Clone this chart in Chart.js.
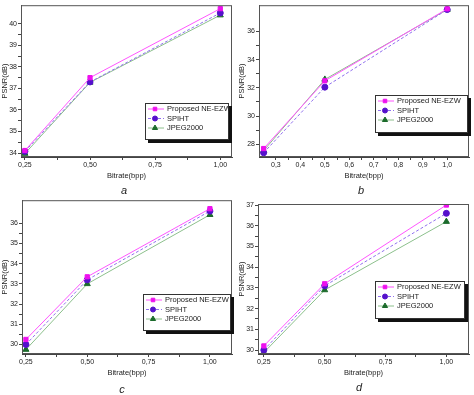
<!DOCTYPE html>
<html>
<head>
<meta charset="utf-8">
<script src="https://cdn.jsdelivr.net/npm/chart.js@4.4.1/dist/chart.umd.min.js"></script>
<style>
body{margin:0;background:#fff;width:474px;height:395px;position:relative;overflow:hidden;font-family:"Liberation Sans",Arial,sans-serif}
canvas{position:absolute}
.lbl{position:absolute;font-style:italic;font-size:11px;color:#222;transform:translate(-50%,-50%)}
</style>
</head>
<body>
<canvas id="cA" width="237" height="195" style="left:0;top:0"></canvas>
<canvas id="cB" width="237" height="195" style="left:237px;top:0"></canvas>
<canvas id="cC" width="237" height="200" style="left:0;top:195px"></canvas>
<canvas id="cD" width="237" height="200" style="left:237px;top:195px"></canvas>
<div class="lbl" style="left:124px;top:190px">a</div>
<div class="lbl" style="left:361px;top:190px">b</div>
<div class="lbl" style="left:122px;top:389px">c</div>
<div class="lbl" style="left:359px;top:387px">d</div>
<script>
// ---------------- data ----------------
var bitrate = [0.25, 0.5, 1.0];
var seriesNames = ['Proposed NE-EZW', 'SPIHT', 'JPEG2000'];

var proposedA = [34.12, 37.5, 40.7];
var spihtA    = [34.08, 37.3, 40.5];
var jpegA     = [33.98, 37.28, 40.4];

var proposedB = [27.7, 32.5, 37.6];
var spihtB    = [27.4, 32.05, 37.55];
var jpegB     = [27.55, 32.6, 37.55];

var proposedC = [30.25, 33.35, 36.72];
var spihtC    = [30.0, 33.2, 36.6];
var jpegC     = [29.75, 33.0, 36.42];

var proposedD = [30.2, 33.2, 37.0];
var spihtD    = [30.0, 33.1, 36.6];
var jpegD     = [29.88, 32.9, 36.2];

var xTicksA = [0.25, 0.5, 0.75, 1.0];
var xTicksB = [0.3, 0.4, 0.5, 0.6, 0.7, 0.8, 0.9, 1.0];
var yTicksA = [34, 35, 36, 37, 38, 39, 40];
var yTicksB = [28, 30, 32, 34, 36];
var yTicksC = [30, 31, 32, 33, 34, 35, 36];
var yTicksD = [30, 31, 32, 33, 34, 35, 36, 37];

//------------------------------ styles -------------------------------
var styles = [
  {line: '#ff55ff', dot: '#ee11ee', shape: 'rect', r: 3, dash: []},
  {line: '#9070ee', dot: '#5511cc', shape: 'circle', r: 3, dash: [3, 2]},
  {line: '#8cc08c', dot: '#1b6b2b', shape: 'triangle', r: 3.5, dash: []}
];

function makeSets(vals) {
  return vals.map(function (v, i) {
    var s = styles[i];
    return {
      label: seriesNames[i],
      data: bitrate.map(function (x, k) { return {x: x, y: v[k]}; }),
      borderColor: s.line,
      backgroundColor: s.dot,
      pointBackgroundColor: s.dot,
      pointBorderColor: s.dot,
      pointStyle: s.shape,
      pointRadius: s.r,
      borderWidth: 1,
      borderDash: s.dash,
      tension: 0
    };
  });
}

// minor ticks between the labelled ones
function withMinor(major) {
  var out = [];
  for (var i = 0; i < major.length; i++) {
    out.push({value: major[i], major: true});
    if (i < major.length - 1) out.push({value: (major[i] + major[i + 1]) / 2, minor: true});
  }
  return out;
}

// frame round plot area + boxed legend with shadow
var boxPlugin = {
  id: 'boxLegend',
  afterDraw: function (chart) {
    var a = chart.chartArea, c = chart.ctx;
    var o = chart.options.plugins.boxLegend;
    c.save();
    c.strokeStyle = '#555';
    c.lineWidth = 1;
    c.strokeRect(a.left + 0.5, a.top + 0.5, a.right - a.left - 1, a.bottom - a.top - 1);

    c.fillStyle = '#111';
    c.fillRect(o.x + 3, o.y + 3, o.w, o.h);
    c.fillStyle = '#fff';
    c.fillRect(o.x, o.y, o.w, o.h);
    c.strokeStyle = '#333';
    c.strokeRect(o.x + 0.5, o.y + 0.5, o.w - 1, o.h - 1);

    chart.data.datasets.forEach(function (ds, i) {
      var yy = o.y + 6 + i * 9.5;
      c.strokeStyle = ds.borderColor;
      c.setLineDash(ds.borderDash);
      c.beginPath();
      c.moveTo(o.x + 3, yy);
      c.lineTo(o.x + 19, yy);
      c.stroke();
      c.setLineDash([]);
      c.fillStyle = ds.pointBackgroundColor;
      c.strokeStyle = ds.pointBorderColor;
      Chart.helpers.drawPoint(c, {pointStyle: ds.pointStyle, radius: ds.pointRadius - 0.5, borderWidth: 1}, o.x + 10, yy);
      c.fillStyle = '#222';
      c.font = '7.5px "Liberation Sans", Arial, sans-serif';
      c.textBaseline = 'middle';
      c.fillText(ds.label, o.x + 22, yy);
    });
    c.restore();
  }
};

function makeChart(id, vals, p) {
  var tickFont = {family: '"Liberation Sans", Arial, sans-serif', size: 7};
  var titleFont = {family: '"Liberation Sans", Arial, sans-serif', size: 7.5};
  return new Chart(document.getElementById(id), {
    type: 'line',
    data: {datasets: makeSets(vals)},
    plugins: [boxPlugin],
    options: {
      responsive: false,
      animation: false,
      events: [],
      layout: {padding: {top: p.top, right: p.right, bottom: p.bottom, left: 0}},
      plugins: {
        legend: {display: false},
        tooltip: {enabled: false},
        boxLegend: p.legend
      },
      scales: {
        x: {
          type: 'linear',
          min: p.xmin, max: p.xmax,
          afterBuildTicks: function (s) { s.ticks = withMinor(p.xt); },
          afterFit: function (s) { s.height = p.xh; },
          grid: {drawOnChartArea: false, tickLength: 3, color: '#444', tickColor: '#444'},
          border: {color: '#444'},
          ticks: {
            font: tickFont, color: '#222', padding: 1, maxRotation: 0, autoSkip: false,
            callback: function (v, i, t) { return t[i].minor ? '' : v.toFixed(p.xdec).replace('.', ','); }
          },
          title: {display: true, text: 'Bitrate(bpp)', font: titleFont, color: '#222', padding: {top: 0, bottom: 2}}
        },
        y: {
          min: p.ymin, max: p.ymax,
          afterBuildTicks: function (s) { s.ticks = withMinor(p.yt); },
          afterFit: function (s) { s.width = p.yw; },
          grid: {drawOnChartArea: false, tickLength: 3, color: '#444', tickColor: '#444'},
          border: {color: '#444'},
          ticks: {
            font: tickFont, color: '#222', padding: 1, autoSkip: false,
            callback: function (v, i, t) { return t[i].minor ? '' : String(v); }
          },
          title: {display: true, text: 'PSNR(dB)', font: titleFont, color: '#222', padding: 0}
        }
      }
    }
  });
}

makeChart('cA', [proposedA, spihtA, jpegA], {
  top: 1, right: 4, bottom: 13, xh: 25, yw: 21,
  xmin: 0.235, xmax: 1.045, xt: xTicksA, xdec: 2,
  ymin: 33.82, ymax: 40.86, yt: yTicksA,
  legend: {x: 145, y: 103, w: 84, h: 37}
});
makeChart('cB', [proposedB, spihtB, jpegB], {
  top: 1, right: 2, bottom: 13, xh: 25, yw: 22,
  xmin: 0.231, xmax: 1.089, xt: xTicksB, xdec: 1,
  ymin: 27.1, ymax: 37.86, yt: yTicksB,
  legend: {x: 138, y: 95, w: 93, h: 38}
});
makeChart('cC', [proposedC, spihtC, jpegC], {
  top: 3, right: 2, bottom: 16, xh: 25, yw: 22,
  xmin: 0.234, xmax: 1.09, xt: xTicksA, xdec: 2,
  ymin: 29.53, ymax: 37.14, yt: yTicksC,
  legend: {x: 143, y: 99, w: 88, h: 37}
});
makeChart('cD', [proposedD, spihtD, jpegD], {
  top: 9, right: 1, bottom: 16, xh: 25, yw: 21,
  xmin: 0.226, xmax: 1.093, xt: xTicksA, xdec: 2,
  ymin: 29.81, ymax: 37.05, yt: yTicksD,
  legend: {x: 138, y: 86, w: 90, h: 38}
});
</script>
</body>
</html>
